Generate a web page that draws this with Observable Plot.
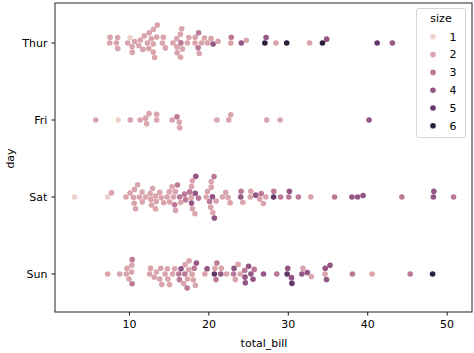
<!DOCTYPE html>
<html><head><meta charset="utf-8">
<script src="https://cdn.jsdelivr.net/npm/d3@7"></script>
<script src="https://cdn.jsdelivr.net/npm/@observablehq/plot@0.6"></script>
<style>body{margin:0;background:#fff}</style>
</head><body><div id="chart"></div>
<script>
const days = ["Thur", "Fri", "Sat", "Sun"];

const thurBill = [27.2,22.76,17.29,19.44,16.66,10.07,32.68,15.98,34.83,13.03,18.28,24.71,21.16,
  10.65,12.43,24.08,11.69,13.42,14.26,15.95,12.48,29.8,8.52,14.52,11.38,22.82,19.08,20.27,11.17,
  12.26,18.26,8.51,10.33,14.15,16.0,13.16,17.47,34.3,41.19,27.05,16.43,8.35,18.64,11.87,9.78,7.51,
  19.81,28.44,15.48,16.58,7.56,10.34,43.11,13.0,13.51,18.71,12.74,13.0,16.4,20.53,16.47,18.78];
const thurSize = [4,2,2,2,2,1,2,2,4,2,2,2,2,
  2,2,4,2,2,2,2,2,6,2,2,2,3,2,2,2,
  2,2,2,2,2,2,2,2,6,5,6,2,2,3,2,2,2,
  2,2,2,2,2,2,4,2,2,3,2,2,2,4,3,2];

const friBill = [28.97,22.49,5.75,16.32,22.75,40.17,27.28,12.03,21.01,12.46,11.35,15.38,
  12.16,13.42,8.58,15.98,13.42,16.27,10.09];
const friSize = [2,2,2,2,2,4,2,2,2,2,2,2,
  2,2,1,3,2,2,2];

const satBill = [20.65,17.92,20.29,15.77,39.42,19.82,17.81,13.37,12.69,21.7,19.65,9.55,18.35,15.06,
  20.69,17.78,24.06,16.31,16.93,18.69,31.27,16.04,
  38.01,26.41,11.24,48.27,20.29,13.81,11.02,18.29,17.59,20.08,16.45,3.07,20.23,15.01,12.02,17.07,
  26.86,25.28,14.73,10.51,17.92,
  44.3,22.42,20.92,15.36,20.49,25.21,18.24,14.31,14.0,7.25,
  10.59,10.63,50.81,15.81,
  26.59,38.73,24.27,12.76,30.06,25.89,48.33,13.27,28.17,12.9,28.15,11.59,7.74,30.14,
  20.45,13.28,22.12,24.01,15.69,11.61,10.77,15.53,10.07,12.6,32.83,35.83,29.03,27.18,22.67,17.82];
const satSize = [3,2,2,2,4,2,4,2,2,2,2,2,4,2,
  4,2,3,3,3,3,3,3,
  4,2,2,4,2,2,2,4,3,3,2,1,2,2,2,3,
  2,2,2,2,2,
  3,2,2,2,2,2,2,2,2,1,
  2,2,3,2,
  3,4,2,2,3,4,4,2,3,2,5,2,2,4,
  4,2,2,4,3,2,2,2,2,2,2,3,3,2,2,2];

const sunBill = [16.99,10.34,21.01,23.68,24.59,25.29,8.77,26.88,15.04,14.78,10.27,35.26,15.42,18.43,
  14.83,21.58,10.33,16.29,16.97,
  17.46,13.94,9.68,30.4,18.29,22.23,32.4,28.55,18.04,12.54,10.29,34.81,9.94,25.56,19.49,
  38.07,23.95,25.71,17.31,29.93,
  14.07,13.13,17.26,24.55,19.77,29.85,48.17,25.0,13.39,16.49,21.5,12.66,16.21,13.81,17.51,24.52,
  20.76,31.71,
  7.25,31.85,16.82,32.9,17.89,14.48,9.6,34.63,34.65,23.33,45.35,23.17,40.55,20.69,20.9,30.46,
  18.15,23.1,15.69];
const sunSize = [2,3,3,2,4,4,2,4,2,2,2,4,2,4,
  2,2,3,3,3,
  2,2,2,4,2,2,4,3,2,2,2,4,2,4,2,
  3,2,3,2,4,
  2,2,3,4,4,5,6,4,2,4,4,2,3,2,2,3,
  2,4,
  2,2,2,2,2,2,2,2,4,2,3,4,2,5,3,5,
  3,3,2];

const sizeLevels = [1, 2, 3, 4, 5, 6];
const sizeColors = ["#edd1cb", "#daa4ac", "#bd7a98", "#935685", "#613969", "#2d1e3e"];
const xTicks = [10, 20, 30, 40, 50];

const rows = [];
[["Thur", thurBill, thurSize], ["Fri", friBill, friSize], ["Sat", satBill, satSize], ["Sun", sunBill, sunSize]]
  .forEach(([day, bills, sizes]) => bills.forEach((b, i) => rows.push({day, total_bill: b, size: sizes[i]})));
// swarm points are placed in order of value
rows.sort((a, b) => d3.ascending(a.total_bill, b.total_bill));

const [lo, hi] = d3.extent(rows, d => d.total_bill);
const pad = (hi - lo) * 0.05;
const R = 2.8;

const plot = Plot.plot({
  width: 474, height: 353,
  marginLeft: 55, marginRight: 2, marginTop: 3, marginBottom: 41,
  style: {fontFamily: "'DejaVu Sans', sans-serif", fontSize: "11px", color: "#000", background: "#fff"},
  x: {domain: [lo - pad, hi + pad]},
  fy: {domain: days, padding: 0},
  color: {type: "ordinal", domain: sizeLevels, range: sizeColors},
  facet: {data: rows, y: "day"},
  marks: [
    Plot.dot(rows, Plot.dodgeY({anchor: "middle", x: "total_bill", r: R, padding: 0.1, fill: "size"})),
    Plot.axisX({ticks: xTicks, tickSize: 3.6, tickPadding: 4.5, strokeWidth: 0.9,
      label: "total_bill", labelAnchor: "center", labelArrow: "none", labelOffset: 34}),
    Plot.axisFy({anchor: "left", tickSize: 3.6, tickPadding: 4.5, strokeWidth: 0.9,
      label: "day", labelAnchor: "center", labelArrow: "none", labelOffset: 49})
  ]
});

const svg = d3.select(plot);
const xr = plot.scale("x").range;
const yr = plot.scale("fy").range;
svg.append("rect")
  .attr("x", xr[0]).attr("y", yr[0])
  .attr("width", xr[1] - xr[0]).attr("height", yr[1] - yr[0])
  .attr("fill", "none").attr("stroke", "#222").attr("stroke-width", 1);

const color = plot.scale("color");
const lg = svg.append("g");
const lx = 416.5, ly = 8.5, lw = 49, lh = 129;
lg.append("rect").attr("x", lx).attr("y", ly).attr("width", lw).attr("height", lh)
  .attr("rx", 2.5).attr("fill", "#fff").attr("fill-opacity", 0.8)
  .attr("stroke", "#ccc").attr("stroke-width", 0.8);
lg.append("text").attr("x", lx + lw / 2).attr("y", 18).attr("dy", "0.35em")
  .attr("text-anchor", "middle").text("size");
sizeLevels.forEach((s, i) => {
  const cy = 36.8 + 17.8 * i;
  lg.append("circle").attr("cx", 433).attr("cy", cy).attr("r", R).attr("fill", color.apply(s));
  lg.append("text").attr("x", 453).attr("y", cy).attr("dy", "0.35em").text(s);
});

document.getElementById("chart").appendChild(plot);
</script>
</body></html>
